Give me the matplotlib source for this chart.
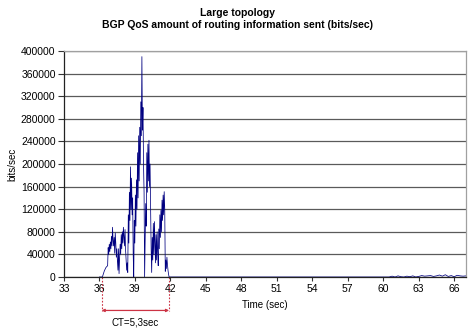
"""BGP QoS: routing information sent over time on the large topology."""

import matplotlib
matplotlib.use("Agg")
import matplotlib.pyplot as plt
import numpy as np

plt.rcParams["font.family"] = ["Liberation Sans", "DejaVu Sans"]

# burst of updates right after the event, one sample every 0.046 s from 36.0 s
burst_start = 36.0
burst_step = 0.046
burst_bps = [
    0, 0, 0, 0, 0, 0, 2000, 5000, 8000, 11000,
    13000, 15000, 17000, 18000, 19000, 20000, 52000, 40000, 58000, 45000,
    62000, 50000, 72000, 55000, 88000, 65000, 55000, 70000, 42000, 78000,
    60000, 35000, 50000, 28000, 12000, 50000, 6000, 30000, 58000, 40000,
    75000, 50000, 80000, 60000, 88000, 70000, 55000, 84000, 48000, 30000,
    12000, 25000, 8000, 110000, 60000, 150000, 100000, 195000, 120000, 175000,
    110000, 140000, 40000, 0, 100000, 60000, 145000, 90000, 172000, 120000,
    220000, 140000, 250000, 170000, 265000, 200000, 310000, 250000, 390000, 260000,
    300000, 200000, 150000, 0, 60000, 130000, 90000, 220000, 150000, 235000,
    170000, 242000, 160000, 200000, 130000, 50000, 8000, 70000, 30000, 95000,
    40000, 98000, 60000, 25000, 75000, 30000, 80000, 45000, 20000, 85000,
    50000, 110000, 70000, 118000, 80000, 136000, 100000, 145000, 110000, 151000,
    120000, 10000, 30000, 15000, 35000, 22000, 12000, 5000, 0, 0,
    0, 0,
]

# quiet period, then the small periodic keepalive traffic
tail_time = [
    42.5, 50.0, 60.5, 60.75, 61.0, 61.25, 61.5, 61.75, 62.0, 62.25,
    62.5, 62.75, 63.0, 63.25, 63.5, 63.75, 64.0, 64.25, 64.5, 64.75,
    65.0, 65.25, 65.5, 65.75, 66.0, 66.25, 66.5, 66.75, 67.0,
]
tail_bps = [
    0, 0, 0, 1500, 0, 2000, 500, 0, 1500, 500,
    2000, 0, 1000, 2500, 1500, 2000, 2500, 1000, 2000, 3500,
    1500, 4000, 1000, 2500, 500, 3000, 2000, 1500, 2000,
]

x_ticks = [33, 36, 39, 42, 45, 48, 51, 54, 57, 60, 63, 66]
y_ticks = list(range(0, 400001, 40000))

# convergence time markers
ct_start, ct_end = 36.18, 41.89
ct_label = "CT=5,3sec"

burst_time = burst_start + burst_step * np.arange(len(burst_bps))
time = np.concatenate([burst_time, tail_time])
bps = np.concatenate([burst_bps, tail_bps])

fig = plt.figure(figsize=(4.74, 3.32), dpi=100)
ax = fig.add_axes([64 / 474, 1 - 277 / 332, 402 / 474, 226 / 332])

ax.plot(time, bps, color="#000080", linewidth=0.55)

ax.set_xlim(33, 67)
ax.set_ylim(0, 400000)
ax.set_xticks(x_ticks)
ax.set_yticks(y_ticks)
ax.tick_params(labelsize=7.5, length=4, width=0.8, color="#333333", pad=2)
ax.tick_params(axis="x", length=3)
ax.yaxis.grid(True, color="#5a5a5a", linewidth=0.9)
ax.set_axisbelow(True)

for side in ("top", "right"):
    ax.spines[side].set_color("#a0a0a0")
    ax.spines[side].set_linewidth(0.9)
for side in ("left", "bottom"):
    ax.spines[side].set_color("#222222")
    ax.spines[side].set_linewidth(0.9)

ax.set_xlabel("Time (sec)", fontsize=7, labelpad=4)
fig.text(12 / 474, 1 - 164 / 332, "bits/sec", rotation=90, fontsize=7,
         ha="center", va="center")

fig.text(0.5, 1 - 13 / 332, "Large topology", fontsize=7.5, fontweight="bold",
         ha="center", va="center")
fig.text(0.5, 1 - 25 / 332,
         "BGP QoS amount of routing information sent (bits/sec)",
         fontsize=7.5, fontweight="bold", ha="center", va="center")

# dotted drop lines and double arrow under the axis
red = "#cc3344"
trans = ax.get_xaxis_transform()
for t in (ct_start, ct_end):
    ax.plot([t, t], [0, -0.152], transform=trans, color=red, linestyle=(0, (1.5, 1.5)),
            linewidth=0.8, clip_on=False)
ax.annotate("", xy=(ct_start, -0.148), xytext=(ct_end, -0.148),
            xycoords=trans, textcoords=trans,
            arrowprops=dict(arrowstyle="<|-|>", color=red, lw=0.9,
                            mutation_scale=4, shrinkA=0, shrinkB=0))
ax.text((ct_start + ct_end) / 2, -0.2, ct_label, transform=trans,
        fontsize=7, ha="center", va="center")

fig.savefig("out.png", dpi=100)
